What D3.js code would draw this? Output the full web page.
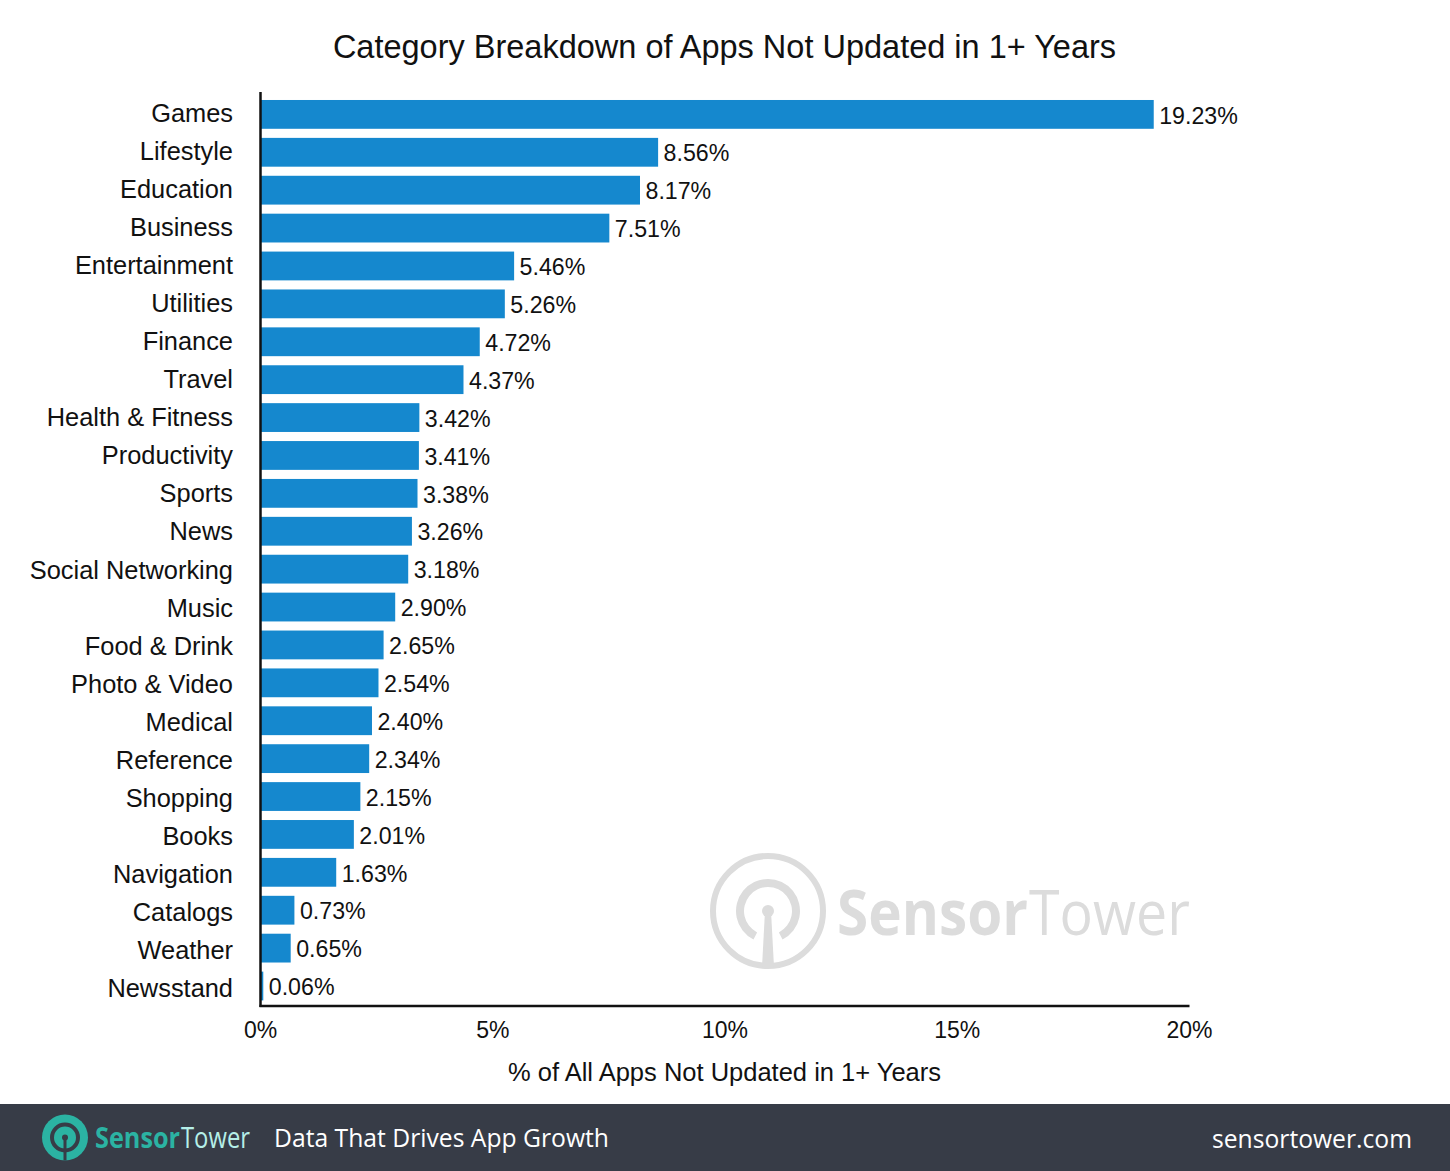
<!DOCTYPE html>
<html>
<head>
<meta charset="utf-8">
<script src="https://cdnjs.cloudflare.com/ajax/libs/d3/7.8.5/d3.min.js"></script>
<style>
  html, body { margin: 0; padding: 0; background: #fff; }
  svg { display: block; }
  text { font-family: "Liberation Sans", Arial, sans-serif; fill: #111; }
  .footer-text { font-family: "Open Sans", sans-serif; }
</style>
</head>
<body>
<svg id="chart" width="1450" height="1171"></svg>
<script>
var categories = ['Games', 'Lifestyle', 'Education', 'Business', 'Entertainment', 'Utilities',
  'Finance', 'Travel', 'Health & Fitness', 'Productivity', 'Sports', 'News', 'Social Networking',
  'Music', 'Food & Drink', 'Photo & Video', 'Medical', 'Reference', 'Shopping', 'Books',
  'Navigation', 'Catalogs', 'Weather', 'Newsstand'];
var values = [19.23, 8.56, 8.17, 7.51, 5.46, 5.26, 4.72, 4.37, 3.42, 3.41, 3.38, 3.26, 3.18,
  2.90, 2.65, 2.54, 2.40, 2.34, 2.15, 2.01, 1.63, 0.73, 0.65, 0.06];
var x_ticks = [0, 5, 10, 15, 20];

var svg = d3.select('#chart');
var x = d3.scaleLinear().domain([0, 20]).range([260.5, 1189.5]);
var y = d3.scaleBand().domain(categories).range([96.2, 1004.2]).paddingInner(0.24).paddingOuter(0.1);
// the category labels run on a very slightly wider step than the bars
var y_label = d3.scalePoint().domain(categories).range([122.2, 996.8]);

function draw_logo(g, r_outer, color) {
  // r_outer is the outer ring radius, everything else scales from it
  var k = r_outer / 58;
  g.append('circle').attr('r', 55 * k).attr('fill', 'none')
    .attr('stroke', color).attr('stroke-width', 6 * k);
  var arc = d3.arc()
    .innerRadius(24 * k).outerRadius(32 * k)
    .startAngle(-Math.PI * 0.85).endAngle(Math.PI * 0.85);
  g.append('path').attr('d', arc()).attr('fill', color);
  g.append('circle').attr('r', 6 * k).attr('fill', color);
  g.append('path')
    .attr('d', 'M' + (-3 * k) + ',0L' + (3 * k) + ',0L' + (6 * k) + ',' + (56 * k) + 'L' + (-6 * k) + ',' + (56 * k) + 'Z')
    .attr('fill', color);
}

// watermark sits behind the bars
var wm = svg.append('g');
draw_logo(wm.append('g').attr('transform', 'translate(768,911)'), 58, '#dcdcdc');
wm.append('text').attr('class', 'footer-text').attr('x', 837).attr('y', 935)
  .attr('font-size', 63).attr('font-weight', 700).style('fill', '#dcdcdc')
  .attr('textLength', 191).attr('lengthAdjust', 'spacingAndGlyphs').text('Sensor');
wm.append('text').attr('class', 'footer-text').attr('x', 1029).attr('y', 935)
  .attr('font-size', 63).attr('font-weight', 400).style('fill', '#dcdcdc')
  .attr('textLength', 161).attr('lengthAdjust', 'spacingAndGlyphs').text('Tower');

svg.append('text').attr('x', 724.5).attr('y', 58).attr('text-anchor', 'middle')
  .attr('font-size', 32.5).text('Category Breakdown of Apps Not Updated in 1+ Years');

svg.selectAll('.bar').data(values).enter().append('rect')
  .attr('class', 'bar')
  .attr('x', x(0))
  .attr('y', function (d, i) { return y(categories[i]); })
  .attr('width', function (d) { return x(d) - x(0); })
  .attr('height', y.bandwidth())
  .attr('fill', '#1588ce');

svg.selectAll('.value').data(values).enter().append('text')
  .attr('class', 'value')
  .attr('x', function (d) { return x(d) + 5.5; })
  .attr('y', function (d, i) { return y(categories[i]) + y.bandwidth() / 2 + 9.2; })
  .attr('font-size', 23.2)
  .text(function (d) { return d.toFixed(2) + '%'; });

svg.selectAll('.cat').data(categories).enter().append('text')
  .attr('class', 'cat')
  .attr('x', 233)
  .attr('y', function (d) { return y_label(d); })
  .attr('text-anchor', 'end')
  .attr('font-size', 25.4)
  .text(function (d) { return d; });

// axis lines
svg.append('line').attr('x1', x(0)).attr('x2', x(0)).attr('y1', 92).attr('y2', 1007)
  .attr('stroke', '#111').attr('stroke-width', 2.5);
svg.append('line').attr('x1', x(0) - 1).attr('x2', x(20)).attr('y1', 1006).attr('y2', 1006)
  .attr('stroke', '#111').attr('stroke-width', 2.5);

svg.selectAll('.tick-label').data(x_ticks).enter().append('text')
  .attr('class', 'tick-label')
  .attr('x', function (d) { return x(d); })
  .attr('y', 1038)
  .attr('text-anchor', 'middle')
  .attr('font-size', 23)
  .text(function (d) { return d + '%'; });

svg.append('text').attr('x', 724.5).attr('y', 1081).attr('text-anchor', 'middle')
  .attr('font-size', 25.5).text('% of All Apps Not Updated in 1+ Years');

// footer band
svg.append('rect').attr('x', 0).attr('y', 1104).attr('width', 1450).attr('height', 67).attr('fill', '#373c47');
var logo = svg.append('g').attr('transform', 'translate(65,1137.5)');
logo.append('circle').attr('r', 23).attr('fill', '#2bb3a3');
logo.append('circle').attr('r', 13).attr('fill', 'none').attr('stroke', '#373c47').attr('stroke-width', 4);
logo.append('circle').attr('r', 3).attr('fill', '#373c47');
logo.append('rect').attr('x', -1.5).attr('y', 0).attr('width', 3).attr('height', 23).attr('fill', '#373c47');

svg.append('text').attr('class', 'footer-text').attr('x', 95).attr('y', 1148)
  .attr('font-size', 29).attr('font-weight', 700).style('fill', '#2bb3a3')
  .attr('textLength', 85).attr('lengthAdjust', 'spacingAndGlyphs').text('Sensor');
svg.append('text').attr('class', 'footer-text').attr('x', 181).attr('y', 1148)
  .attr('font-size', 29).style('fill', '#b5efe8')
  .attr('textLength', 69).attr('lengthAdjust', 'spacingAndGlyphs').text('Tower');
svg.append('text').attr('class', 'footer-text').attr('x', 274).attr('y', 1147)
  .attr('font-size', 26).style('fill', '#fff')
  .attr('textLength', 335).attr('lengthAdjust', 'spacingAndGlyphs').text('Data That Drives App Growth');
svg.append('text').attr('class', 'footer-text').attr('x', 1212).attr('y', 1148)
  .attr('font-size', 26).style('fill', '#fff')
  .attr('textLength', 200).attr('lengthAdjust', 'spacingAndGlyphs').text('sensortower.com');
</script>
</body>
</html>
